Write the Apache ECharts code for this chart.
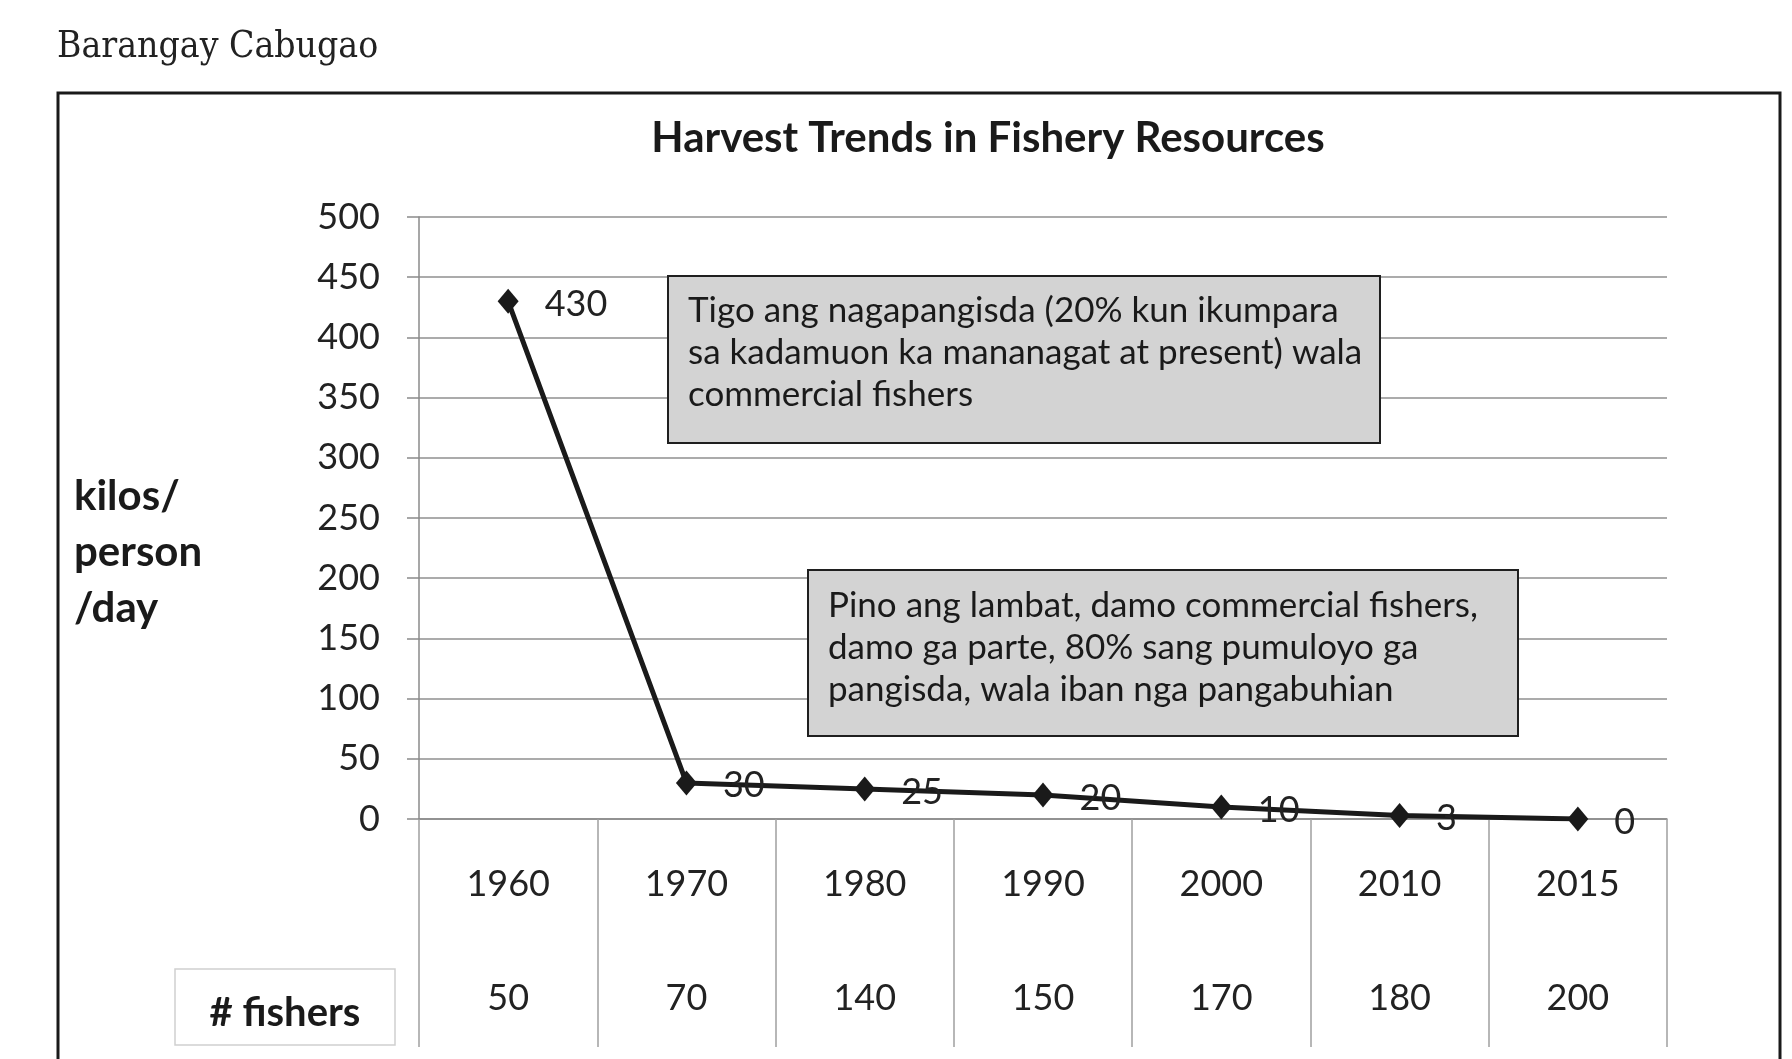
<!DOCTYPE html>
<html>
<head>
<meta charset="utf-8">
<script src="https://cdn.jsdelivr.net/npm/echarts@6/dist/echarts.min.js"></script>
<style>
html,body{margin:0;padding:0;background:#fff;}
#c{width:1792px;height:1059px;}
</style>
</head>
<body>
<div id="c"></div>
<script>
const years = ['1960','1970','1980','1990','2000','2010','2015'];
const harvest = [430, 30, 25, 20, 10, 3, 0];
const fishers = ['50','70','140','150','170','180','200'];
const yTicks = {min: 0, max: 500, interval: 50};
const pageTitle = 'Barangay Cabugao';
const chartTitle = 'Harvest Trends in Fishery Resources';
const yName = 'kilos/\nperson\n/day';
const fishersLabel = '# fishers';
const note1 = 'Tigo ang nagapangisda (20% kun ikumpara\nsa kadamuon ka mananagat at present) wala\ncommercial fishers';
const note2 = 'Pino ang lambat, damo commercial fishers,\ndamo ga parte, 80% sang pumuloyo ga\npangisda, wala iban nga pangabuhian';

const F = 'Lato, "Open Sans", sans-serif';
const chart = echarts.init(document.getElementById('c'), null, {renderer: 'canvas'});
chart.setOption({
  backgroundColor: '#ffffff',
  animation: false,
  title: {
    text: chartTitle,
    left: 983, top: 133, textAlign: 'center', textVerticalAlign: 'middle',
    textStyle: {fontFamily: F, fontWeight: 'bold', fontSize: 42, color: '#1a1a1a'}
  },
  grid: {left: 419, right: 125, top: 217, bottom: 240, containLabel: false},
  xAxis: [{
    type: 'category', data: years, boundaryGap: true, position: 'bottom',
    axisLine: {show: true, lineStyle: {color: '#8a8a8a', width: 1.5}},
    axisTick: {show: true, interval: 0, length: 228, lineStyle: {color: '#a0a0a0', width: 1.5}},
    axisLabel: {interval: 0, margin: 47, fontFamily: F, fontSize: 36, color: '#222'},
    splitLine: {show: false}
  }, {
    type: 'category', data: fishers, boundaryGap: true, position: 'bottom',
    axisLine: {show: false}, axisTick: {show: false},
    axisLabel: {interval: 0, margin: 161, fontFamily: F, fontSize: 36, color: '#222'},
    splitLine: {show: false}
  }],
  yAxis: {
    type: 'value', min: yTicks.min, max: yTicks.max, interval: yTicks.interval,
    axisLine: {show: true, lineStyle: {color: '#8a8a8a', width: 1.5}},
    axisTick: {show: true, length: 12, lineStyle: {color: '#8a8a8a', width: 1.5}},
    axisLabel: {margin: 39, fontFamily: F, fontSize: 36, color: '#222'},
    splitLine: {show: true, lineStyle: {color: '#8f8f8f', width: 1.5}}
  },
  series: [{
    type: 'line', data: harvest, xAxisIndex: 0,
    symbol: 'diamond', symbolSize: [21, 25],
    lineStyle: {color: '#1a1a1a', width: 5},
    itemStyle: {color: '#1a1a1a'},
    label: {show: true, position: 'right', distance: 26, fontFamily: F, fontSize: 36, color: '#222', offset: [0, 3]},
    z: 3
  }],
  graphic: [
    {type: 'rect', silent: true, z: -1, shape: {x: 58, y: 93, width: 1722, height: 1020},
     style: {fill: 'none', stroke: '#1a1a1a', lineWidth: 3}},
    {type: 'text', left: 57, top: 29, style: {text: pageTitle, font: '37px "DejaVu Serif Condensed", "DejaVu Serif", serif', fill: '#222'}},
    {type: 'text', left: 74, top: 468, style: {text: yName, font: 'bold 42px ' + F, lineHeight: 56, fill: '#1a1a1a'}},
    {type: 'rect', shape: {x: 175, y: 969, width: 220, height: 76}, style: {fill: 'none', stroke: '#d0d0d0', lineWidth: 1.5}},
    {type: 'text', x: 285, y: 1013, style: {text: fishersLabel, font: 'bold 40px ' + F, fill: '#1a1a1a', textAlign: 'center', textVerticalAlign: 'middle'}},
    {type: 'rect', z: 10, shape: {x: 668, y: 276, width: 712, height: 167}, style: {fill: '#d3d3d3', stroke: '#1f1f1f', lineWidth: 2}},
    {type: 'text', z: 11, left: 688, top: 290, style: {text: note1, font: '35px ' + F, lineHeight: 42, fill: '#1a1a1a'}},
    {type: 'rect', z: 10, shape: {x: 808, y: 570, width: 710, height: 166}, style: {fill: '#d3d3d3', stroke: '#1f1f1f', lineWidth: 2}},
    {type: 'text', z: 11, left: 828, top: 585, style: {text: note2, font: '35px ' + F, lineHeight: 42, fill: '#1a1a1a'}}
  ]
});
</script>
</body>
</html>
